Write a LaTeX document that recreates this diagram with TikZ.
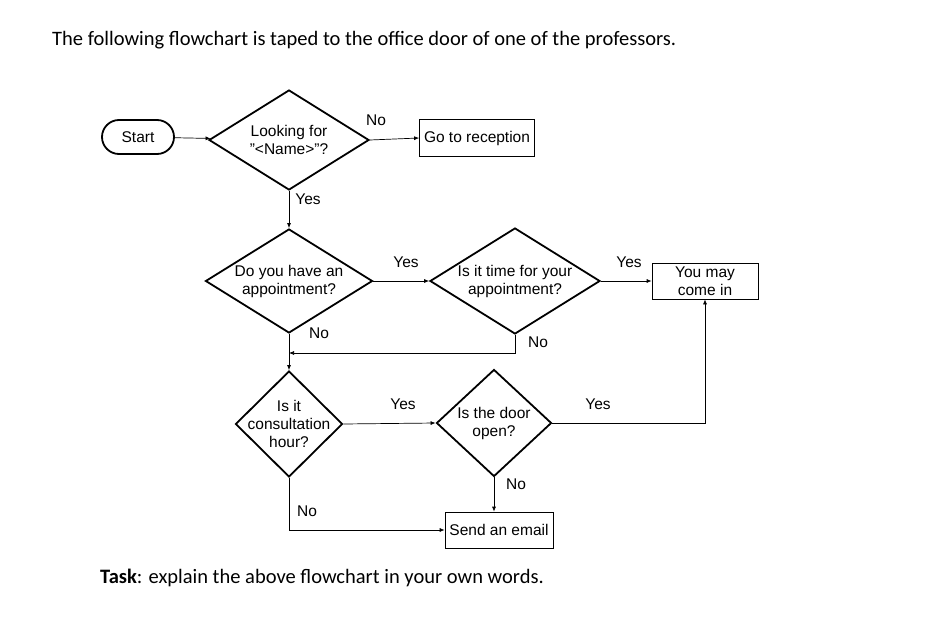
\documentclass[tikz,border=0pt]{standalone}
\usepackage{fontspec}
\setmainfont{Liberation Sans}
\newfontfamily\calib{Carlito}
\usetikzlibrary{shapes.geometric,arrows.meta}
\begin{document}
\begin{tikzpicture}[x=1pt,y=-1pt,
  every node/.style={font=\fontsize{15.5}{18}\selectfont, inner sep=0pt},
  dia/.style={diamond, draw, line width=1.8pt},
  dtext/.style={align=center},
  boxn/.style={rectangle, draw, line width=0.7pt, align=center},
  lbl/.style={font=\fontsize{15.5}{18}\selectfont},
  arr/.style={-{Latex[length=5pt,width=4pt]}, line width=0.7pt}]
\useasboundingbox[fill=white] (0,0) rectangle (934,631);
\node[anchor=west, font=\calib\fontsize{20.5}{24}\selectfont] (title) at (52,40) {The following flowchart is taped to the office door of one of the professors.};
\node[rounded corners=17pt, draw, line width=1.8pt, minimum width=72pt, minimum height=34pt] (start) at (138,137) {Start};
\node[dia, minimum width=160pt, minimum height=100pt] (d1) at (289,140) {};
\node[dtext] (t1) at (d1) {Looking for\\"<Name>"?};
\node[boxn, minimum width=115pt, minimum height=37pt] (rec) at (477,138) {Go to reception};
\node[dia, minimum width=167pt, minimum height=104pt] (d2) at (289,281) {};
\node[dtext] (t2) at (d2) {Do you have an\\appointment?};
\node[dia, minimum width=170pt, minimum height=106pt] (d3) at (515,281) {};
\node[dtext] (t3) at (d3) {Is it time for your\\appointment?};
\node[boxn, minimum width=106pt, minimum height=36pt] (come) at (705,281) {You may\\come in};
\node[dia, minimum width=107pt, minimum height=106pt] (d4) at (289,424) {};
\node[dtext] (t4) at (d4) {Is it\\consultation\\hour?};
\node[dia, minimum width=115pt, minimum height=107pt] (d5) at (494,423) {};
\node[dtext] (t5) at (d5) {Is the door\\open?};
\node[boxn, minimum width=108pt, minimum height=36pt] (mail) at (499,530) {Send an email};
\coordinate (j1) at (289,353);
\draw[arr] (start) -- (d1);
\draw[arr] (d1.east) -- (rec.west);
\draw[arr] (d1.south) -- (d2.north);
\draw[arr] (d2.east) -- (d3.west);
\draw[arr] (d3.east) -- (come.west);
\draw[arr] (d3.south) |- (j1);
\draw[arr] (d2.south) -- (d4.north);
\draw[arr] (d4.east) -- (d5.west);
\draw[arr] (d5.east) -| (come.south);
\draw[arr] (d5.south) -- (d5.south |- mail.north);
\draw[arr] (d4.south) |- (mail.west);
\node[lbl] (l1) at (376,120) {No};
\node[lbl] (l2) at (308,199) {Yes};
\node[lbl] (l3) at (406,262) {Yes};
\node[lbl] (l4) at (629,262) {Yes};
\node[lbl] (l5) at (319,333) {No};
\node[lbl] (l6) at (538,342) {No};
\node[lbl] (l7) at (403,404) {Yes};
\node[lbl] (l8) at (598,404) {Yes};
\node[lbl] (l9) at (516,484) {No};
\node[lbl] (l10) at (307,511) {No};
\node[anchor=west, font=\calib\fontsize{20.5}{24}\selectfont] (task) at (100,578) {\textbf{Task}: explain the above flowchart in your own words.};
\end{tikzpicture}
\end{document}
